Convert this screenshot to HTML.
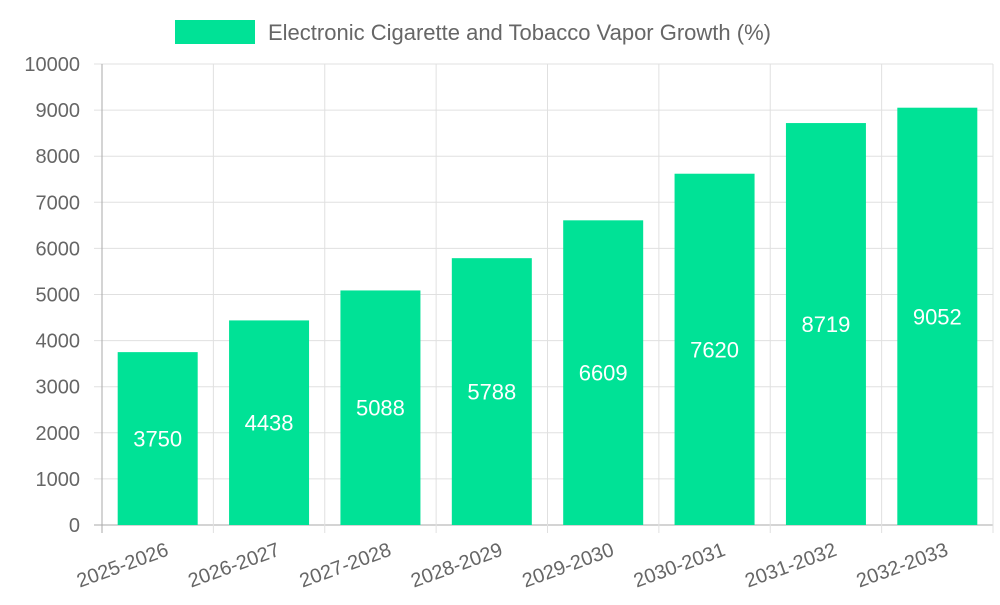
<!DOCTYPE html>
<html><head><meta charset="utf-8"><style>
body{margin:0;background:#fff;font-family:"Liberation Sans",sans-serif}
svg text{font-family:"Liberation Sans",sans-serif}
</style></head><body>
<svg id="chart" width="1000" height="600" viewBox="0 0 1000 600" xmlns="http://www.w3.org/2000/svg">
<g>
<rect x="175" y="20" width="80" height="24" fill="#00e296"/>
<text x="268" y="40" font-size="22" fill="#666">Electronic Cigarette and Tobacco Vapor Growth (%)</text>
</g>
<g id="grid"></g><g id="bars"></g><g id="labels"></g>
</svg>
<script>
const categories=["2025-2026","2026-2027","2027-2028","2028-2029","2029-2030","2030-2031","2031-2032","2032-2033"];
const values=[3750,4438,5088,5788,6609,7620,8719,9052];
const yTicks=[0,1000,2000,3000,4000,5000,6000,7000,8000,9000,10000];
const NS="http://www.w3.org/2000/svg";
const L=102,R=993,T=64,B=525,yMax=10000;
const bw=(R-L)/categories.length;
const y=v=>B-(v/yMax)*(B-T);
const x=i=>L+i*bw;
function mk(tag,attrs,parent,txt){const e=document.createElementNS(NS,tag);for(const k in attrs)e.setAttribute(k,attrs[k]);if(txt!==undefined)e.textContent=txt;document.getElementById(parent).appendChild(e);return e;}
yTicks.forEach(t=>{
 const g=mk('line',{x1:L-8,x2:R,y1:y(t),y2:y(t),stroke:t===0?'#aaa':'#e0e0e0','stroke-width':1},'grid');
 
 
 const tx=mk('text',{x:L-22,y:y(t)+7,'text-anchor':'end','font-size':20,fill:'#666'},'labels',String(t));
 
 
});
for(let i=0;i<=categories.length;i++){
 const g=mk('line',{x1:x(i),x2:x(i),y1:T,y2:B+8,stroke:i===0?'#aaa':'#e0e0e0','stroke-width':1},'grid');
 
 
}
categories.forEach((c,i)=>{
 const cx=x(i)+bw/2;
 const r=mk('rect',{x:cx-40,y:y(values[i]),width:80,height:B-y(values[i]),fill:'#00e296'},'bars');
 
 
 const v=mk('text',{x:cx,y:(y(values[i])+B)/2+8,'text-anchor':'middle','font-size':22,fill:'#fff'},'labels',String(values[i]));
 
 
 const xl=mk('text',{x:cx+12,y:B+30,'text-anchor':'end','font-size':20,fill:'#666',transform:`rotate(-20 ${cx+12} ${B+30})`},'labels',c);
 
 
});
</script>
</body></html>
